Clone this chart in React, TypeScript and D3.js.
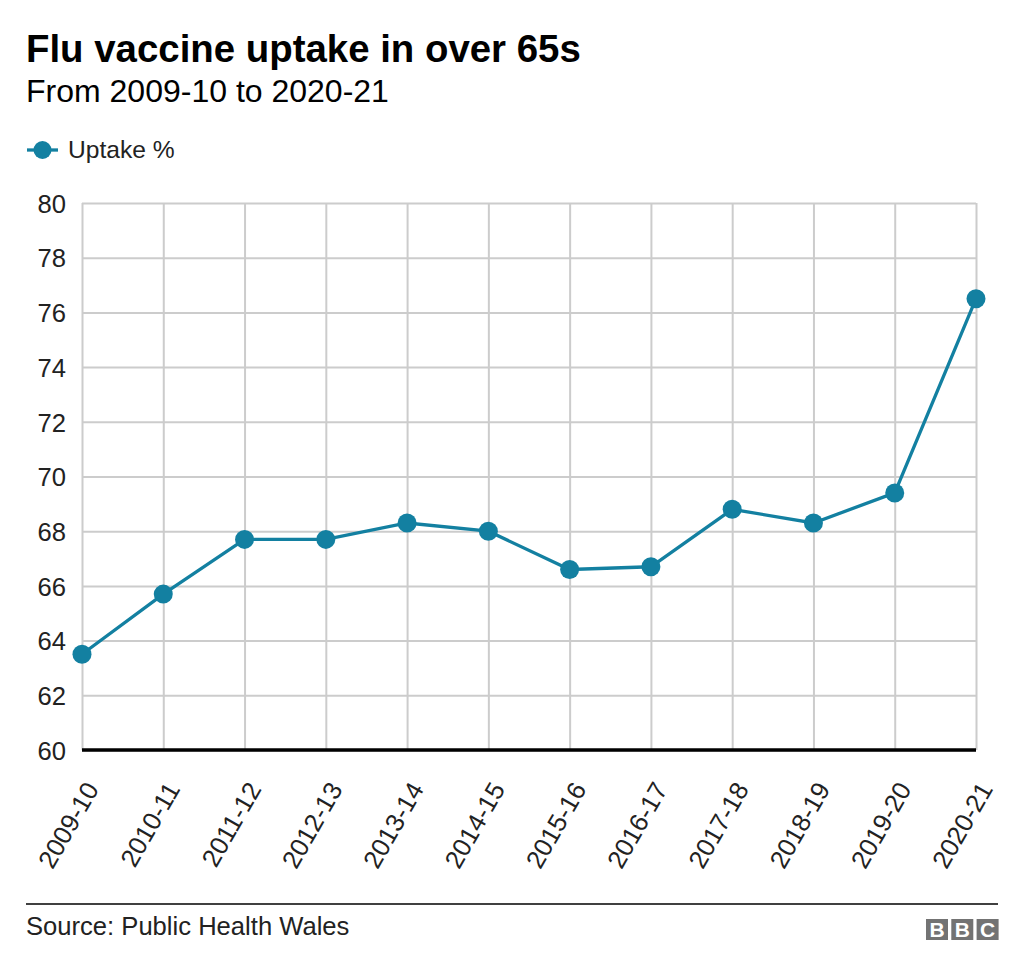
import { useEffect, useRef } from 'react';
import * as d3 from 'd3';

const seasons = [
  '2009-10', '2010-11', '2011-12', '2012-13', '2013-14', '2014-15',
  '2015-16', '2016-17', '2017-18', '2018-19', '2019-20', '2020-21',
];
const uptake = [63.5, 65.7, 67.7, 67.7, 68.3, 68.0, 66.6, 66.7, 68.8, 68.3, 69.4, 76.5];
const yTicks = [60, 62, 64, 66, 68, 70, 72, 74, 76, 78, 80];

const FONT = '"Liberation Sans", Arial, Helvetica, sans-serif';
const TEAL = '#1380a1';
const GRID = '#cccccc';

export default function App() {
  const svgRef = useRef<SVGSVGElement>(null);

  useEffect(() => {
    if (!svgRef.current) return;
    const root = d3.select(svgRef.current);
    root.selectAll('*').remove();

    const width = 1024;
    const height = 974;
    const margin = { top: 203, right: 48, bottom: 224, left: 82 };
    const innerWidth = width - margin.left - margin.right;
    const innerHeight = height - margin.top - margin.bottom;

    root.attr('width', width).attr('height', height).style('font-family', FONT);

    // Title block
    root.append('text')
      .attr('x', 26).attr('y', 62)
      .attr('font-size', 38.4).attr('font-weight', 'bold').attr('fill', '#000')
      .text('Flu vaccine uptake in over 65s');
    root.append('text')
      .attr('x', 26).attr('y', 101.5)
      .attr('font-size', 32).attr('fill', '#000')
      .text('From 2009-10 to 2020-21');

    // Legend
    const legend = root.append('g').attr('transform', 'translate(27,150)');
    legend.append('line').attr('x1', 0).attr('x2', 31).attr('y1', 0).attr('y2', 0)
      .attr('stroke', TEAL).attr('stroke-width', 3.3);
    legend.append('circle').attr('cx', 15.5).attr('cy', 0).attr('r', 9).attr('fill', TEAL);
    legend.append('text').attr('x', 41).attr('y', 8)
      .attr('font-size', 24.6).attr('fill', '#222').text('Uptake %');

    const g = root.append('g').attr('transform', `translate(${margin.left},${margin.top})`);

    const x = d3.scalePoint<string>().domain(seasons).range([0, innerWidth]);
    const y = d3.scaleLinear().domain([60, 80]).range([innerHeight, 0]);

    // Y axis with horizontal grid
    const yAxis = g.append('g')
      .call(d3.axisLeft(y).tickValues(yTicks).tickSize(-innerWidth).tickPadding(16).tickFormat(d => `${d}`));
    yAxis.select('.domain').remove();
    yAxis.selectAll('line').attr('stroke', GRID).attr('stroke-width', 2);
    yAxis.selectAll('text')
      .attr('font-size', 25.6).attr('fill', '#222').attr('font-family', FONT).attr('dy', '0.36em');

    // X axis with vertical grid
    const xAxis = g.append('g')
      .attr('transform', `translate(0,${innerHeight})`)
      .call(d3.axisBottom(x).tickSize(-innerHeight));
    xAxis.select('.domain').remove();
    xAxis.selectAll('line').attr('stroke', GRID).attr('stroke-width', 2);
    xAxis.selectAll('text')
      .attr('x', 0).attr('y', 0).attr('dy', 0)
      .attr('transform', 'translate(17,39) rotate(-60)')
      .attr('text-anchor', 'end')
      .attr('font-size', 25.6).attr('fill', '#222').attr('font-family', FONT);

    // Baseline
    g.append('line')
      .attr('x1', 0).attr('x2', innerWidth)
      .attr('y1', y(60)).attr('y2', y(60))
      .attr('stroke', '#000').attr('stroke-width', 3.3);

    // Series
    const line = d3.line<number>()
      .x((_, i) => x(seasons[i]) ?? 0)
      .y(d => y(d));
    g.append('path')
      .datum(uptake)
      .attr('d', line)
      .attr('fill', 'none')
      .attr('stroke', TEAL)
      .attr('stroke-width', 3.3);
    g.selectAll('.dot')
      .data(uptake)
      .enter()
      .append('circle')
      .attr('cx', (_, i) => x(seasons[i]) ?? 0)
      .attr('cy', d => y(d))
      .attr('r', 9.5)
      .attr('fill', TEAL);

    // Footer
    root.append('line')
      .attr('x1', 26).attr('x2', 998).attr('y1', 904).attr('y2', 904)
      .attr('stroke', '#000').attr('stroke-width', 1.5);
    root.append('text')
      .attr('x', 26).attr('y', 935)
      .attr('font-size', 25.6).attr('fill', '#222')
      .text('Source: Public Health Wales');

    const logo = root.append('g').attr('transform', 'translate(926,919)');
    ['B', 'B', 'C'].forEach((letter, i) => {
      logo.append('rect')
        .attr('x', i * 25.3).attr('y', 0).attr('width', 22).attr('height', 21)
        .attr('fill', '#737373');
      logo.append('text')
        .attr('x', i * 25.3 + 11).attr('y', 18)
        .attr('text-anchor', 'middle')
        .attr('font-size', 21).attr('font-weight', 'bold').attr('fill', '#fff')
        .text(letter);
    });
  }, []);

  return (
    <div>
      <style>{'body { margin: 0; }'}</style>
      <svg ref={svgRef} style={{ display: 'block' }} />
    </div>
  );
}
